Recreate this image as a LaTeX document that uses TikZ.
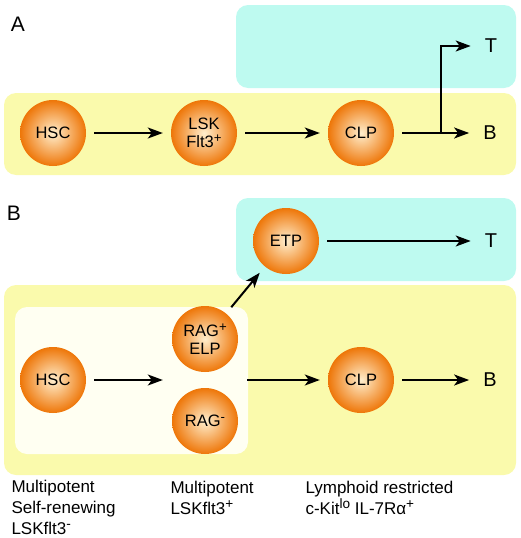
\documentclass[tikz,border=0pt]{standalone}
\usepackage{fontspec}
\setmainfont{Liberation Sans}
\usetikzlibrary{arrows.meta}

\definecolor{cellrim}{RGB}{238,118,8}
\definecolor{cellcore}{RGB}{255,238,205}
\definecolor{marrow}{RGB}{250,250,172}
\definecolor{thymus}{RGB}{190,250,240}
\definecolor{niche}{RGB}{255,255,242}

% raised marks (+, -, lo) a little larger than \textsuperscript
\newcommand\supmark[1]{\raisebox{0.6ex}{\scalebox{0.8}{#1}}}

\begin{document}
\begin{tikzpicture}[x=1pt,y=-1pt,
    cell/.style={circle, minimum size=66pt, inner sep=0pt, align=center,
        inner color=cellcore, outer color=cellrim,
        font=\fontsize{16.5}{18}\selectfont},
    fate/.style={inner sep=6pt, font=\fontsize{20}{20}\selectfont},
    panel/.style={font=\fontsize{21}{21}\selectfont},
    lineage/.style={line width=2pt, shorten <=8pt, shorten >=8pt,
        -{Stealth[length=15pt,width=11pt,inset=4pt]}},
    stage/.style={anchor=base west, align=left,
        font=\fontsize{17}{21}\selectfont}]

    \useasboundingbox (0,0) rectangle (520,538);

    % Panel A
    \fill[thymus, rounded corners=12pt] (236,5) rectangle (516,88);
    \fill[marrow, rounded corners=12pt] (4,93) rectangle (516,175);
    \node[panel] (labA) at (18,24) {A};

    \node[cell] (hscA) at (53,133) {HSC};
    \node[cell] (lskA) at (204,133) {LSK\\Flt3\supmark{+}};
    \node[cell] (clpA) at (361,133) {CLP};
    \node[fate] (bA) at (490,133) {B};
    \node[fate] (tA) at (491,46) {T};
    \coordinate (split) at (441,133);

    \draw[lineage] (hscA) -- (lskA);
    \draw[lineage] (lskA) -- (clpA);
    \draw[lineage] (clpA) -- (bA);
    \draw[lineage, shorten <=0pt] (split) |- (tA);

    % Panel B
    \fill[thymus, rounded corners=12pt] (236,198) rectangle (516,281);
    \fill[marrow, rounded corners=12pt] (4,285) rectangle (516,475);
    \fill[niche, rounded corners=12pt] (15,307) rectangle (248,454);
    \node[panel] (labB) at (14,213) {B};

    \node[cell] (hscB) at (53,380) {HSC};
    \node[cell] (ragp) at (205,339) {RAG\supmark{+}\\ELP};
    \node[cell] (ragm) at (205,421) {RAG\supmark{-}};
    \node[inner sep=0pt, minimum size=68pt] (lskB) at (205,380) {};
    \node[cell] (etp) at (286,241) {ETP};
    \node[cell] (clpB) at (361,380) {CLP};
    \node[fate] (bB) at (490,380) {B};
    \node[fate] (tB) at (491,241) {T};

    \draw[lineage] (hscB) -- (lskB);
    \draw[lineage] (lskB) -- (clpB);
    \draw[lineage] (clpB) -- (bB);
    \draw[lineage] (ragp) -- (etp);
    \draw[lineage] (etp) -- (tB);

    % Stages (base is the last line)
    \node[stage] (self) at (8,534) {Multipotent\\Self-renewing\\LSKflt3\supmark{-}};
    \node[stage] (multi) at (167,514) {Multipotent\\LSKflt3\supmark{+}};
    \node[stage] (lymph) at (302,514) {Lymphoid restricted\\c-Kit\supmark{lo} IL-7Rα\supmark{+}};
\end{tikzpicture}
\end{document}
